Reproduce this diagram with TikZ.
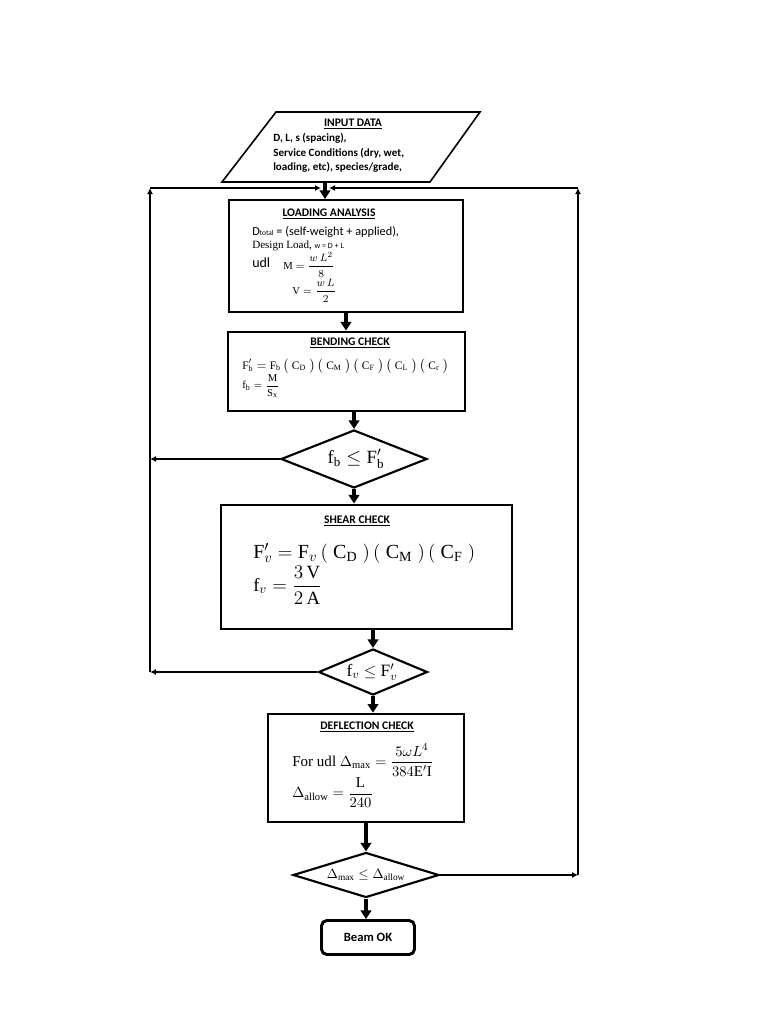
\documentclass[tikz,border=0pt]{standalone}
\usepackage{amsmath}
\usepackage{fontspec}
\setmainfont{Liberation Serif}
\newfontfamily\lab{Carlito}
\usetikzlibrary{arrows.meta,shapes.geometric}
\newcommand\fsz[1]{\fontsize{#1}{#1}\selectfont}
\newcommand\R[1]{\mathrm{#1}}
\newcommand\fac[1]{\,\bigl(\;\R{C}_{\R{#1}}\;\bigr)}
\newcommand\facs[1]{\,(\;\R{C}_{\R{#1}}\;)}
\begin{document}
\begin{tikzpicture}[x=0.75pt,y=-0.75pt,
  flow/.style={line width=2.4pt,-{Triangle[width=8pt,length=6.5pt]}},
  back/.style={line width=0.9pt,-{Latex[width=4.5pt,length=4.5pt]}},
  hd/.style={font=\lab\bfseries\fsz{8.7},inner sep=0},
  txt/.style={inner sep=0,anchor=west},
  boxn/.style={draw,inner sep=0},
  dia/.style={draw,diamond,line width=1.6pt,inner sep=0}]
\useasboundingbox[fill=white] (0,0) rectangle (768,1024);

% input parallelogram
\coordinate (i1) at (276,112);
\coordinate (i2) at (480,112);
\coordinate (i3) at (430,182);
\coordinate (i4) at (222,182);
\draw[line width=1.2pt] (i1)--(i2)--(i3)--(i4)--cycle;
\node[hd,font=\lab\bfseries\fsz{8.7}] (inhead) at (353,124) {\underline{INPUT DATA}};
\node[inner sep=0,anchor=north west,align=left,font=\lab\bfseries\fontsize{8.3}{10.9}\selectfont] (intext) at (273,133)
  {D, L, s (spacing),\\Service Conditions (dry, wet,\\loading, etc), species/grade,};

% loading analysis
\node[boxn,line width=1.5pt,minimum width=175.5pt,minimum height=84pt] (load) at (346,256) {};
\node[hd] (loadh) at (329,214) {\underline{LOADING ANALYSIS}};
\node[txt] (ld1) at (252,232) {\lab\fsz{9.2}D{\fsz{5.5}total} = (self-weight + applied),};
\node[txt] (ld2) at (252,246) {\fsz{8.3}Design Load, {\lab\fsz{6}w = D + L}};
\node[txt] (udl) at (252,263) {\lab\fsz{10.5}udl};
\node[txt] (mm) at (283,265) {\fsz{8}$\R{M} = \dfrac{w\,L^2}{8}$};
\node[txt] (vv) at (292,291) {\fsz{8}$\R{V} = \dfrac{w\,L}{2}$};

% bending
\node[boxn,line width=2.2pt,minimum width=177.75pt,minimum height=59.25pt] (bend) at (346.5,371.5) {};
\node[hd] (bendh) at (350,343) {\underline{BENDING CHECK}};
\node[txt] (bf1) at (242,366) {\fsz{8.6}$\R{F}_{\R{b}}' = \R{F}_{\R{b}}\fac{D}\fac{M}\fac{F}\fac{L}\fac{r}$};
\node[txt] (bf2) at (242,386) {\fsz{8}$\R{f}_{\R{b}} = \dfrac{\R{M}}{\R{S}_{\R{x}}}$};

% fb diamond
\node[dia,minimum width=109.5pt,minimum height=43.5pt] (fb) at (354,459) {};
\node[inner sep=0] (fbt) at (356,459) {\fsz{14}$\R{f}_{\R{b}} \le \R{F}_{\R{b}}'$};

% shear
\node[boxn,line width=2.2pt,minimum width=218.25pt,minimum height=93pt] (shear) at (366.5,567) {};
\node[hd] (shearh) at (357,521) {\underline{SHEAR CHECK}};
\node[txt] (sf1) at (253,553) {\fsz{15}$\R{F}_{v}' = \R{F}_{v}\facs{D}\facs{M}\facs{F}$};
\node[txt] (sf2) at (253,585) {\fsz{14}$\R{f}_{v} = \dfrac{3\,\R{V}}{2\,\R{A}}$};

% fv diamond
\node[dia,minimum width=81.75pt,minimum height=34.5pt] (fv) at (373,672) {};
\node[inner sep=0] (fvt) at (372,672) {\fsz{13}$\R{f}_{v} \le \R{F}_{v}'$};

% deflection
\node[boxn,line width=2pt,minimum width=147pt,minimum height=81pt] (defl) at (366,768) {};
\node[hd] (deflh) at (367,727) {\underline{DEFLECTION CHECK}};
\node[txt] (df1) at (292,760) {\fsz{11.3}For udl $\Delta_{\R{max}} = \dfrac{5\omega L^4}{384\R{E}'\R{I}}$};
\node[txt] (df2) at (292,793) {\fsz{11.3}$\Delta_{\R{allow}} = \dfrac{\R{L}}{240}$};

% delta diamond
\node[dia,minimum width=109.5pt,minimum height=33.75pt] (dm) at (366,875) {};
\node[inner sep=0] (dmt) at (366,875) {\fsz{10}$\Delta_{\R{max}} \le \Delta_{\R{allow}}$};

% beam ok
\node[boxn,line width=2.2pt,rounded corners=4pt,minimum width=69.75pt,minimum height=25.5pt,font=\lab\bfseries\fsz{9.5}] (ok) at (368,937.5) {Beam OK};

% main flow
\coordinate (inb) at (325,182);
\draw[flow] (inb) -- (inb |- load.north);
\draw[flow] (load.south) -- (load.south |- bend.north);
\draw[flow] (bend.south -| fb.north) -- (fb.north);
\draw[flow] (fb.south) -- (fb.south |- shear.north);
\draw[flow] (shear.south -| fv.north) -- (fv.north);
\draw[flow] (fv.south) -- (fv.south |- defl.north);
\draw[flow] (defl.south -| dm.north) -- (dm.north);
\draw[flow] (dm.south) -- (dm.south |- ok.north);

% loops
\coordinate (tl) at (150,188);
\coordinate (tr) at (578,188);
\coordinate (tcl) at (321,188);
\coordinate (tcr) at (329,188);
\coordinate (bl) at (fv.west -| tl);
\coordinate (br) at (dm.east -| tr);
\draw[back] (fb.west) -- (fb.west -| tl);
\draw[back] (fv.west) -- (bl);
\draw[back] (bl) -- (tl);
\draw[back] (tl) -- (tcl);
\draw[back] (dm.east) -- (br);
\draw[back] (br) -- (tr);
\draw[back] (tr) -- (tcr);
\end{tikzpicture}
\end{document}
